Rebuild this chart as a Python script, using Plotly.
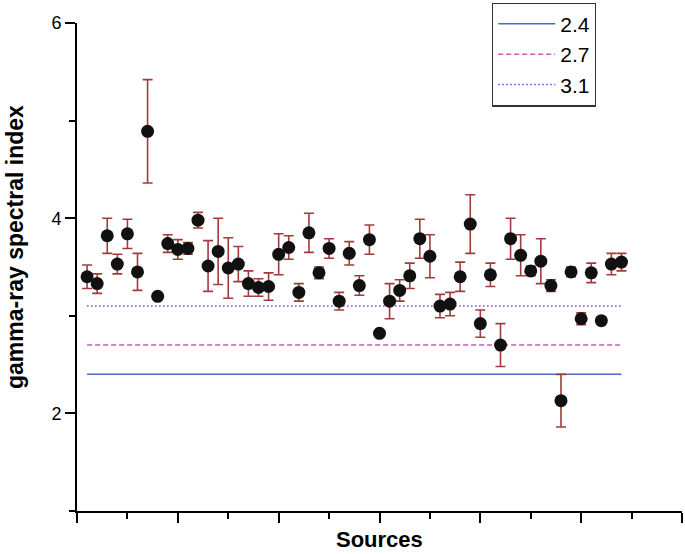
import plotly.graph_objects as go

# Data
source_idx = list(range(1, 55))
spectral_index = [3.40, 3.33, 3.82, 3.53, 3.84, 3.45, 4.89, 3.20, 3.74, 3.68,
                  3.69, 3.98, 3.51, 3.66, 3.49, 3.53, 3.33, 3.29, 3.30, 3.63,
                  3.70, 3.24, 3.85, 3.44, 3.69, 3.15, 3.64, 3.31, 3.78, 2.82,
                  3.15, 3.26, 3.41, 3.79, 3.61, 3.10, 3.12, 3.40, 3.94, 2.92,
                  3.42, 2.70, 3.79, 3.62, 3.46, 3.56, 3.31, 2.13, 3.45, 2.97,
                  3.44, 2.95, 3.53, 3.55]
index_err = [0.12, 0.10, 0.18, 0.10, 0.15, 0.19, 0.53, 0.02, 0.09, 0.10,
             0.06, 0.08, 0.26, 0.34, 0.31, 0.18, 0.13, 0.09, 0.14, 0.21,
             0.12, 0.09, 0.20, 0.06, 0.10, 0.09, 0.12, 0.10, 0.15, 0.02,
             0.18, 0.11, 0.13, 0.20, 0.22, 0.12, 0.12, 0.15, 0.30, 0.14,
             0.12, 0.22, 0.21, 0.21, 0.05, 0.23, 0.06, 0.27, 0.05, 0.06,
             0.10, 0.02, 0.11, 0.09]
ref_names = ["2.4", "2.7", "3.1"]
ref_values = [2.4, 2.7, 3.1]
ref_colors = ["#5266c8", "#d355c6", "#7a45e0"]
ref_dash = ["solid", "5px,3px", "1.5px,2.5px"]
ref_x = [1, 54]

FONT = "Arial, Liberation Sans, sans-serif"

fig = go.Figure()
for name, val, col, dash in zip(ref_names, ref_values, ref_colors, ref_dash):
    fig.add_trace(go.Scatter(x=ref_x, y=[val, val], mode="lines", name=name,
                             line=dict(color=col, width=1.5, dash=dash)))

fig.add_trace(go.Scatter(
    x=source_idx, y=spectral_index, mode="markers", showlegend=False,
    marker=dict(color="#111111", size=13, line=dict(width=0)),
    error_y=dict(type="data", array=index_err, visible=True,
                 color="#a23c3c", thickness=1.6, width=5)))

fig.update_layout(
    width=685, height=554,
    margin=dict(l=77, r=3, t=23, b=43),
    paper_bgcolor="white", plot_bgcolor="white",
    font=dict(family=FONT, color="black"),
    legend=dict(x=0.686, y=1.042, xanchor="left", yanchor="top",
                bordercolor="#333333", borderwidth=1.2, bgcolor="white",
                font=dict(size=21, family=FONT), itemwidth=57,
                tracegroupgap=0),
    annotations=[
        dict(text="gamma-ray spectral index", textangle=-90, showarrow=False,
             xref="paper", yref="paper", x=-0.1025, y=0.541,
             xanchor="center", yanchor="middle",
             font=dict(size=23, family=FONT, color="black", weight="bold")),
        dict(text="Sources", showarrow=False,
             xref="paper", yref="paper", x=0.5, y=-0.058,
             xanchor="center", yanchor="middle",
             font=dict(size=22, family=FONT, color="black", weight="bold")),
    ],
)

fig.update_xaxes(range=[0, 60], showgrid=False, zeroline=False,
                 showline=True, linecolor="black", linewidth=2,
                 ticks="outside", tick0=0, dtick=10, ticklen=10, tickwidth=2,
                 tickcolor="black", showticklabels=False,
                 minor=dict(ticks="outside", dtick=5, ticklen=6, tickwidth=2,
                            tickcolor="black"))
fig.update_yaxes(range=[1, 6], showgrid=False, zeroline=False,
                 showline=True, linecolor="black", linewidth=2,
                 ticks="outside", tick0=2, dtick=2, ticklen=10, tickwidth=2,
                 tickcolor="black", tickfont=dict(size=18, family=FONT),
                 minor=dict(ticks="outside", dtick=1, tick0=1, ticklen=6,
                            tickwidth=2, tickcolor="black"))

fig.write_html("out.html")
